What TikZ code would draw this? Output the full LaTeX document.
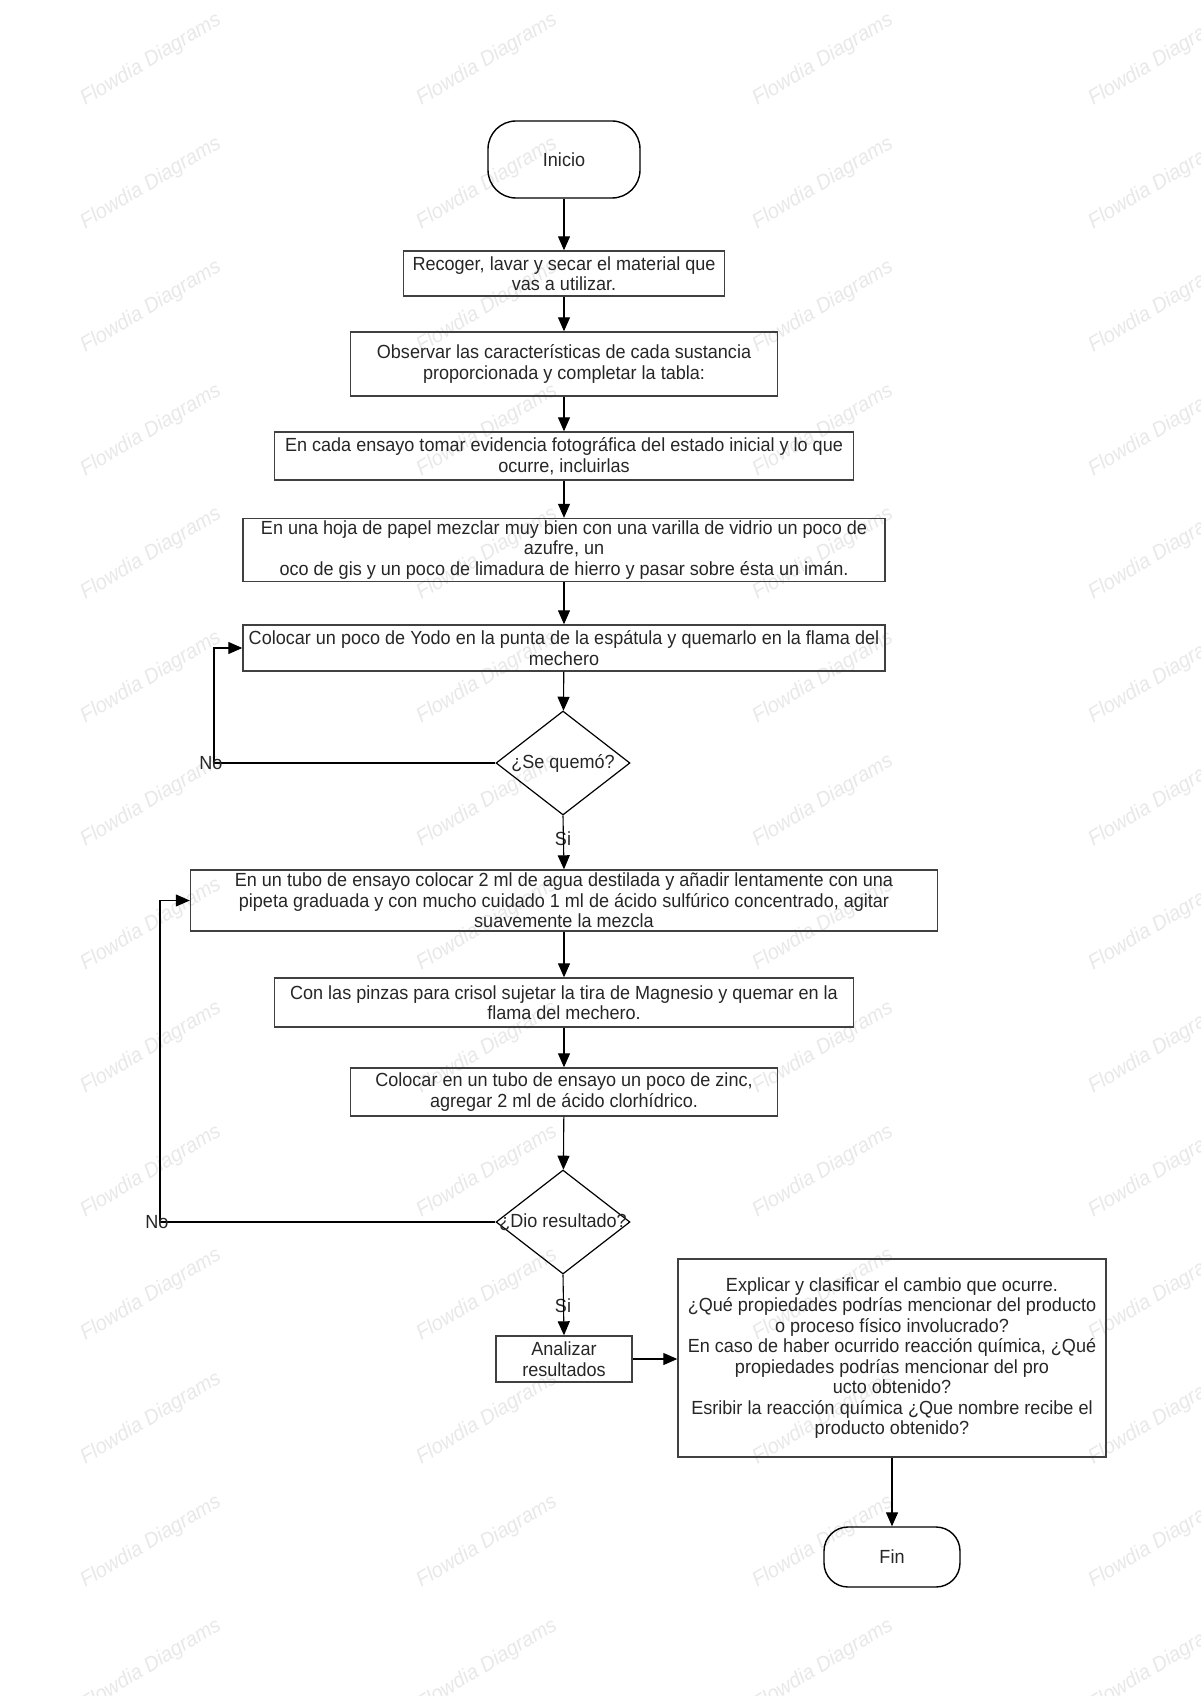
\documentclass[tikz,border=0pt]{standalone}
\usepackage{fontspec}
\setmainfont{Liberation Sans}[FakeStretch=0.95]
\usetikzlibrary{shapes.geometric,arrows.meta}

\tikzset{
  caja/.style={draw=black!75, line width=1.4pt, align=center, inner sep=2pt,
    text=black!85, font=\fontsize{19}{20.5}\selectfont},
  terminal/.style={draw=black, line width=1.4pt, rounded corners=28pt,
    align=center, text=black!85, font=\fontsize{19}{20.5}\selectfont},
  decision/.style={draw=black, diamond, line width=1.2pt, aspect=1.29,
    inner sep=-5pt, minimum width=134pt, minimum height=104pt,
    text=black!85, font=\fontsize{19}{20.5}\selectfont},
  etiqueta/.style={inner sep=0pt, text=black!85, font=\fontsize{19}{20.5}\selectfont},
  flecha/.style={draw=black, line width=1.1pt, -{Triangle[length=14pt,width=12pt]}},
  marca/.style={text=black!9, rotate=31, font=\itshape\fontsize{21}{21}\selectfont},
}

\begin{document}
\begin{tikzpicture}[x=1pt,y=-1pt]
    \useasboundingbox (0,0) rectangle (1200,1696);
    % marca de agua
    \foreach \i in {0,...,3}
      \foreach \j in {0,...,13}
        \node[marca] (wm-\i-\j) at (151+336*\i, 60+123.5*\j) {Flowdia Diagrams};

    % nodos
    \node[terminal, minimum width=152pt, minimum height=77pt] (inicio) at (564,159.5) {Inicio};
    \node[caja, minimum width=321pt, minimum height=45pt] (recoger) at (564,273.5)
      {Recoger, lavar y secar el material que\\vas a utilizar.};
    \node[caja, minimum width=427pt, minimum height=64pt] (observar) at (564,364)
      {Observar las características de cada sustancia\\proporcionada y completar la tabla:};
    \node[caja, minimum width=579pt, minimum height=48pt] (ensayo) at (564,456)
      {En cada ensayo tomar evidencia fotográfica del estado inicial y lo que\\ocurre, incluirlas};
    \node[caja, minimum width=642pt, minimum height=63pt] (hoja) at (564,550)
      {En una hoja de papel mezclar muy bien con una varilla de vidrio un poco de\\azufre, un\\oco de gis y un poco de limadura de hierro y pasar sobre ésta un imán.};
    \node[caja, minimum width=642pt, minimum height=46pt] (yodo) at (564,648)
      {Colocar un poco de Yodo en la punta de la espátula y quemarlo en la flama del\\mechero};
    \node[decision] (quemo) at (563,763) {¿Se quemó?};
    \node[caja, minimum width=747pt, minimum height=61pt] (tubo) at (564,900.5)
      {En un tubo de ensayo colocar 2 ml de agua destilada y añadir lentamente con una\\pipeta graduada y con mucho cuidado 1 ml de ácido sulfúrico concentrado, agitar\\suavemente la mezcla};
    \node[caja, minimum width=579pt, minimum height=49pt] (pinzas) at (564,1002.5)
      {Con las pinzas para crisol sujetar la tira de Magnesio y quemar en la\\flama del mechero.};
    \node[caja, minimum width=427pt, minimum height=48pt] (zinc) at (564,1092)
      {Colocar en un tubo de ensayo un poco de zinc,\\agregar 2 ml de ácido clorhídrico.};
    \node[decision] (resultado) at (563,1222) {¿Dio resultado?};
    \node[caja, minimum width=136pt, minimum height=46pt] (analizar) at (564,1359)
      {Analizar\\resultados};
    \node[caja, minimum width=428pt, minimum height=198pt] (explicar) at (892,1358)
      {Explicar y clasificar el cambio que ocurre.\\¿Qué propiedades podrías mencionar del producto\\o proceso físico involucrado?\\En caso de haber ocurrido reacción química, ¿Qué\\propiedades podrías mencionar del pro\\ucto obtenido?\\Esribir la reacción química ¿Que nombre recibe el\\producto obtenido?};
    \node[terminal, rounded corners=24pt, minimum width=136pt, minimum height=60pt] (fin) at (892,1557) {Fin};

    % etiquetas
    \coordinate (no1) at (214,763);
    \coordinate (no2) at (160,1222);
    \node[etiqueta] (si1) at (563,839) {Si};
    \node[etiqueta] (si2) at (563,1306) {Si};

    % conectores
    \draw[flecha] (inicio) -- (recoger);
    \draw[flecha] (recoger) -- (observar);
    \draw[flecha] (observar) -- (ensayo);
    \draw[flecha] (ensayo) -- (hoja);
    \draw[flecha] (hoja) -- (yodo);
    \draw[flecha] (yodo) -- (quemo);
    \draw[flecha] (quemo.west) -- (no1) |- (yodo.west);
    \draw[flecha] (quemo.south) -- (tubo.north);
    \draw[flecha] (tubo) -- (pinzas);
    \draw[flecha] (pinzas) -- (zinc);
    \draw[flecha] (zinc) -- (resultado);
    \draw[flecha] (resultado.west) -- (no2) |- (tubo.west);
    \draw[flecha] (resultado.south) -- (analizar.north);
    \draw[flecha] (analizar.east) -- (analizar.east -| explicar.west);
    \draw[flecha] (explicar) -- (fin);
    \node[etiqueta] (nolab1) at (211,763) {No};
    \node[etiqueta] (nolab2) at (157,1222) {No};
\end{tikzpicture}
\end{document}
